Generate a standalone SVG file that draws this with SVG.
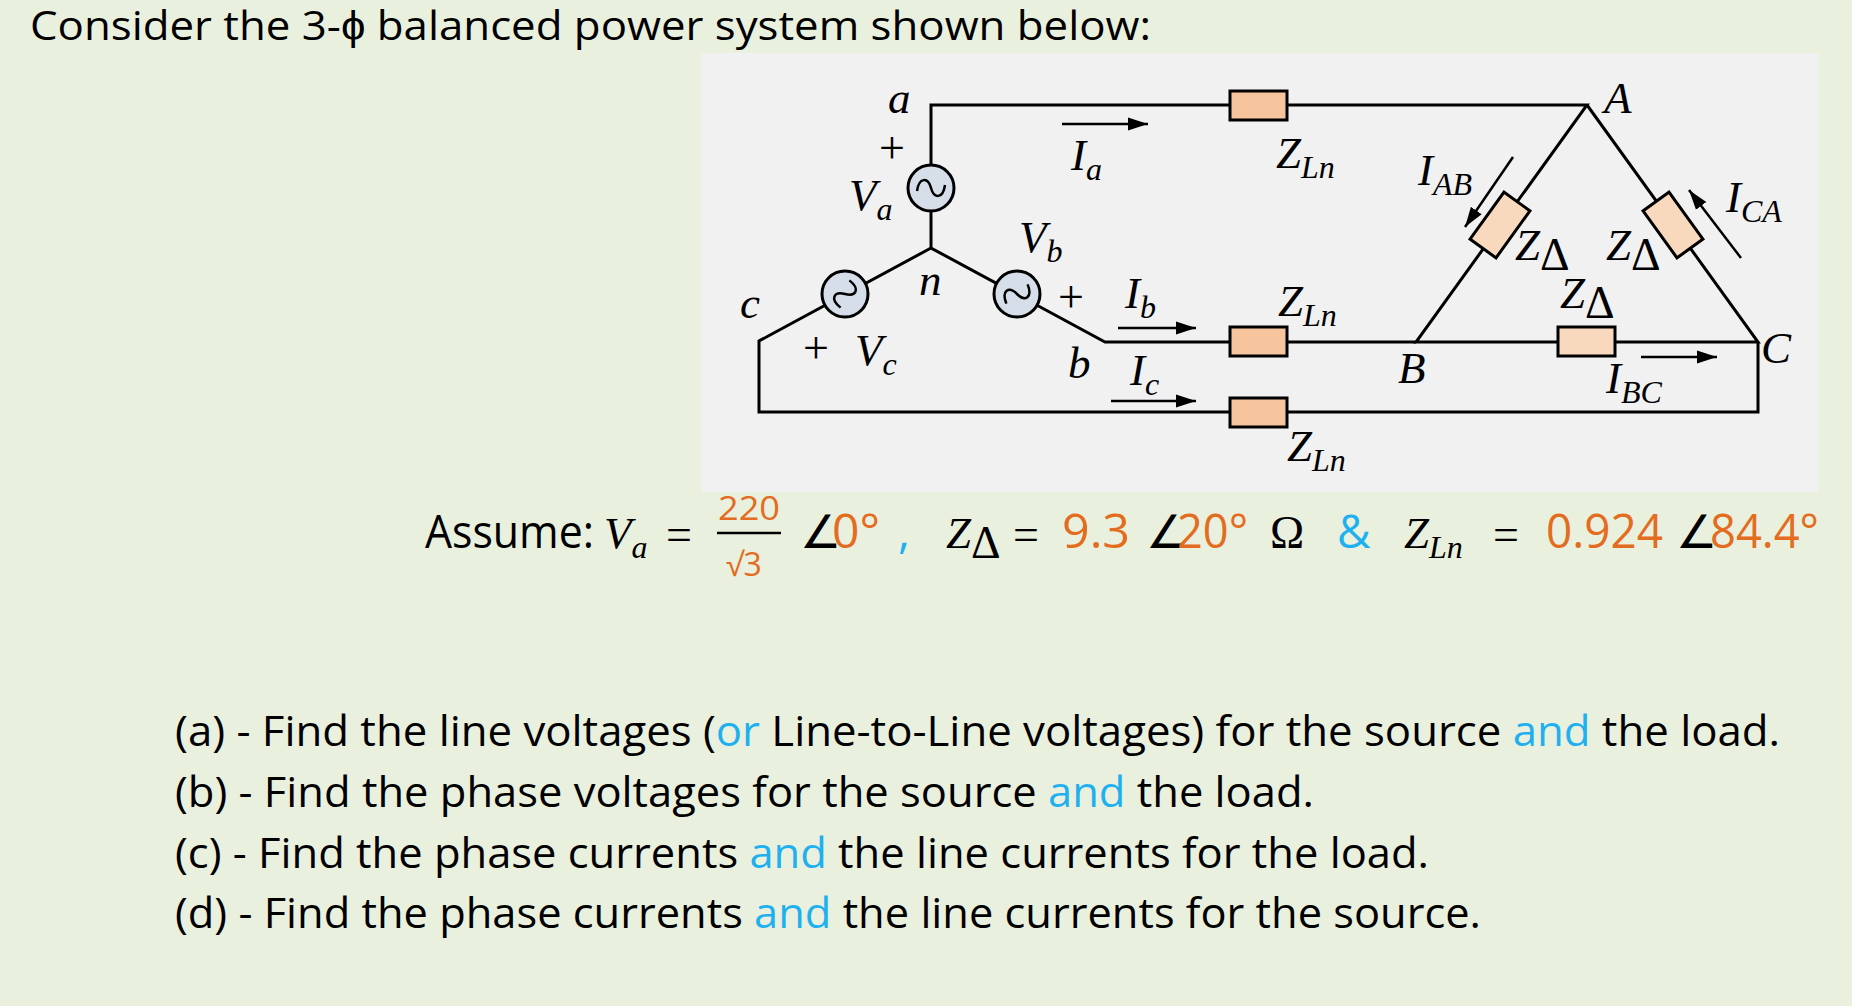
<svg xmlns="http://www.w3.org/2000/svg" width="1852" height="1006" viewBox="0 0 1852 1006">
<defs>
<marker id="ah" viewBox="-20 -7 20 14" refX="0" refY="0" markerWidth="20" markerHeight="14" orient="auto" markerUnits="userSpaceOnUse"><path d="M0,0 L-20,-6.5 L-20,6.5 z" fill="#000"/></marker>
<style>
.w{fill:none;stroke:#000;stroke-width:3}
.r{fill:#f6c59e;stroke:#000;stroke-width:3}
.rl{fill:#f9d9be;stroke:#000;stroke-width:3}
.src{fill:#d6dfe9;stroke:#000;stroke-width:3}
.til{fill:none;stroke:#000;stroke-width:2.5}
.m{font-family:"Liberation Serif",serif;font-style:italic;font-size:45px;fill:#000}
.s{font-family:"Liberation Serif",serif;font-style:italic;font-size:32px}
.p{font-family:"Liberation Serif",serif;font-style:normal;font-size:46px}
.t{font-family:"Open Sans","Liberation Sans",sans-serif;font-style:normal;fill:#000}
.o{fill:#e36c1f}
.b{fill:#1fb0ef}
.ar{stroke:#000;stroke-width:2.5;fill:none}
</style>
</defs>
<rect width="1852" height="1006" fill="#e9f0de"/>
<rect x="701" y="53" width="1118" height="439" fill="#f1f1f1"/>
<text class="t" x="30" y="40" font-size="40" textLength="1121" lengthAdjust="spacingAndGlyphs">Consider the 3-ϕ balanced power system shown below:</text>
<g id="connectors">
<path class="w" d="M931,166 V105 H1587 L1416,342 H1758 L1587,105"/>
<path class="w" d="M931,210 V248 L1105,342 H1416"/>
<path class="w" d="M931,248 L759,341 V412 H1758 V342"/>
<line class="ar" x1="1062" y1="124" x2="1148" y2="124" marker-end="url(#ah)"/>
<line class="ar" x1="1118" y1="328" x2="1196" y2="328" marker-end="url(#ah)"/>
<line class="ar" x1="1111" y1="401" x2="1196" y2="401" marker-end="url(#ah)"/>
<line class="ar" x1="1513" y1="157" x2="1465" y2="227" marker-end="url(#ah)"/>
<line class="ar" x1="1741" y1="258" x2="1689" y2="190" marker-end="url(#ah)"/>
<line class="ar" x1="1641" y1="357" x2="1717" y2="357" marker-end="url(#ah)"/>
</g>
<g id="src-a"><circle class="src" cx="931" cy="188" r="23"/><path class="til" d="M-14,3 C-12,-11 -3,-11 0,0 S12,11 14,-3" transform="translate(931,188)"/></g>
<g id="src-c"><circle class="src" cx="845" cy="294" r="23"/><path class="til" d="M-14,3 C-12,-11 -3,-11 0,0 S12,11 14,-3" transform="translate(845,294) rotate(-60)"/></g>
<g id="src-b"><circle class="src" cx="1017" cy="294" r="23"/><path class="til" d="M-14,3 C-12,-11 -3,-11 0,0 S12,11 14,-3" transform="translate(1017,294) rotate(-30)"/></g>
<g id="zln-a"><rect class="r" x="1230" y="91" width="57" height="29"/></g>
<g id="zln-b"><rect class="r" x="1230" y="327" width="57" height="29"/></g>
<g id="zln-c"><rect class="r" x="1230" y="398" width="57" height="29"/></g>
<g id="zab"><rect class="rl" x="-29" y="-16" width="58" height="32" transform="translate(1500,225) rotate(-54.2)"/></g>
<g id="zca"><rect class="rl" x="-29" y="-16" width="58" height="32" transform="translate(1673,225) rotate(54.2)"/></g>
<g id="zbc"><rect class="rl" x="1558" y="327" width="57" height="29"/></g>
<g id="labels">
<text class="m" x="888" y="113">a</text>
<text class="p" x="879" y="163">+</text>
<text class="m" x="849" y="210">V<tspan class="s" dy="10">a</tspan></text>
<text class="m" x="1019" y="252">V<tspan class="s" dy="10">b</tspan></text>
<text class="m" x="919" y="295">n</text>
<text class="p" x="1058" y="312">+</text>
<text class="m" x="1125" y="308">I<tspan class="s" dy="10">b</tspan></text>
<text class="m" x="740" y="318">c</text>
<text class="p" x="803" y="363">+</text>
<text class="m" x="855" y="365">V<tspan class="s" dy="10">c</tspan></text>
<text class="m" x="1068" y="378">b</text>
<text class="m" x="1130" y="385">I<tspan class="s" dy="10">c</tspan></text>
<text class="m" x="1071" y="170">I<tspan class="s" dy="10">a</tspan></text>
<text class="m" x="1276" y="168">Z<tspan class="s" dy="10">Ln</tspan></text>
<text class="m" x="1278" y="316">Z<tspan class="s" dy="10">Ln</tspan></text>
<text class="m" x="1287" y="461">Z<tspan class="s" dy="10">Ln</tspan></text>
<text class="m" x="1604" y="113">A</text>
<text class="m" x="1418" y="185">I<tspan class="s" dy="10">AB</tspan></text>
<text class="m" x="1515" y="260">Z<tspan class="p" font-size="30" dy="10">Δ</tspan></text>
<text class="m" x="1606" y="260">Z<tspan class="p" font-size="30" dy="10">Δ</tspan></text>
<text class="m" x="1560" y="308">Z<tspan class="p" font-size="30" dy="10">Δ</tspan></text>
<text class="m" x="1726" y="212">I<tspan class="s" dy="10">CA</tspan></text>
<text class="m" x="1761" y="363">C</text>
<text class="m" x="1398" y="383">B</text>
<text class="m" x="1606" y="393">I<tspan class="s" dy="10">BC</tspan></text>
</g>
<g id="assume">
<text class="t" x="425" y="548" font-size="46" textLength="169" lengthAdjust="spacingAndGlyphs">Assume:</text>
<text class="m" x="604" y="548" font-size="48">V<tspan class="s" font-size="34" dy="10">a</tspan></text>
<text class="p" x="666" y="550" font-size="48">=</text>
<text class="t o" x="718" y="520" font-size="32" textLength="62" lengthAdjust="spacingAndGlyphs">220</text>
<line x1="717" y1="533" x2="781" y2="533" stroke="#000" stroke-width="2.5"/>
<text class="t o" x="726" y="576" font-size="32">√3</text>
<text class="p" x="800" y="548" font-size="48">∠</text>
<text class="t o" x="832" y="548" font-size="48">0°</text>
<text class="t b" x="898" y="548" font-size="46">,</text>
<text class="m" x="946" y="548" font-size="50">Z<tspan class="p" font-size="32" dy="10">Δ</tspan></text>
<text class="p" x="1013" y="550" font-size="48">=</text>
<text class="t o" x="1062" y="548" font-size="48" textLength="68" lengthAdjust="spacingAndGlyphs">9.3</text>
<text class="p" x="1146" y="548" font-size="48">∠</text>
<text class="t o" x="1177" y="548" font-size="48" textLength="71" lengthAdjust="spacingAndGlyphs">20°</text>
<text class="p" x="1270" y="548" font-size="46">Ω</text>
<text class="t b" x="1337" y="548" font-size="46">&amp;</text>
<text class="m" x="1404" y="548" font-size="50">Z<tspan class="s" font-size="34" dy="10">Ln</tspan></text>
<text class="p" x="1493" y="550" font-size="48">=</text>
<text class="t o" x="1546" y="548" font-size="48" textLength="117" lengthAdjust="spacingAndGlyphs">0.924</text>
<text class="p" x="1676" y="548" font-size="48">∠</text>
<text class="t o" x="1710" y="548" font-size="48" textLength="109" lengthAdjust="spacingAndGlyphs">84.4°</text>
</g>
<g id="questions" font-size="42">
<text class="t" x="175" y="746" textLength="1605" lengthAdjust="spacingAndGlyphs">(a) - Find the line voltages (<tspan class="b">or</tspan> Line-to-Line voltages) for the source <tspan class="b">and</tspan> the load.</text>
<text class="t" x="175" y="807" textLength="1139" lengthAdjust="spacingAndGlyphs">(b) - Find the phase voltages for the source <tspan class="b">and</tspan> the load.</text>
<text class="t" x="175" y="868" textLength="1254" lengthAdjust="spacingAndGlyphs">(c) - Find the phase currents <tspan class="b">and</tspan> the line currents for the load.</text>
<text class="t" x="175" y="928" textLength="1306" lengthAdjust="spacingAndGlyphs">(d) - Find the phase currents <tspan class="b">and</tspan> the line currents for the source.</text>
</g>
</svg>
